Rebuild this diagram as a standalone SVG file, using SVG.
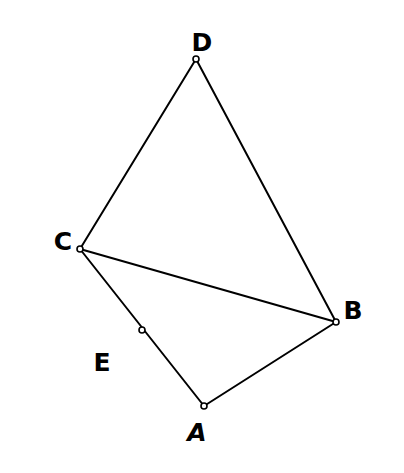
<svg xmlns="http://www.w3.org/2000/svg" width="404" height="473" viewBox="0 0 404 473">
<style>
.edge{stroke:#000;stroke-width:2;fill:none;stroke-linecap:round}
.pt{fill:#fff;stroke:#000;stroke-width:1.6}
.lbl{font-family:"DejaVu Sans",sans-serif;font-size:25px;font-weight:bold;fill:#000;text-anchor:middle}
</style>
<rect width="404" height="473" fill="#fff"/>
<g id="connectors">
<line class="edge" x1="196" y1="59" x2="80" y2="249"/>
<line class="edge" x1="196" y1="59" x2="336" y2="322"/>
<line class="edge" x1="80" y1="249" x2="336" y2="322"/>
<line class="edge" x1="80" y1="249" x2="204" y2="406"/>
<line class="edge" x1="204" y1="406" x2="336" y2="322"/>
</g>
<g id="D"><circle class="pt" cx="196" cy="59" r="3"/><text class="lbl" x="202" y="51">D</text></g>
<g id="C"><circle class="pt" cx="80" cy="249" r="3"/><text class="lbl" x="63" y="250">C</text></g>
<g id="B"><circle class="pt" cx="336" cy="322" r="3"/><text class="lbl" x="353" y="319">B</text></g>
<g id="A"><circle class="pt" cx="204" cy="406" r="3"/><text class="lbl" x="197" y="441" font-style="italic">A</text></g>
<g id="E"><circle class="pt" cx="142" cy="330" r="3"/><text class="lbl" x="102" y="371">E</text></g>
</svg>
